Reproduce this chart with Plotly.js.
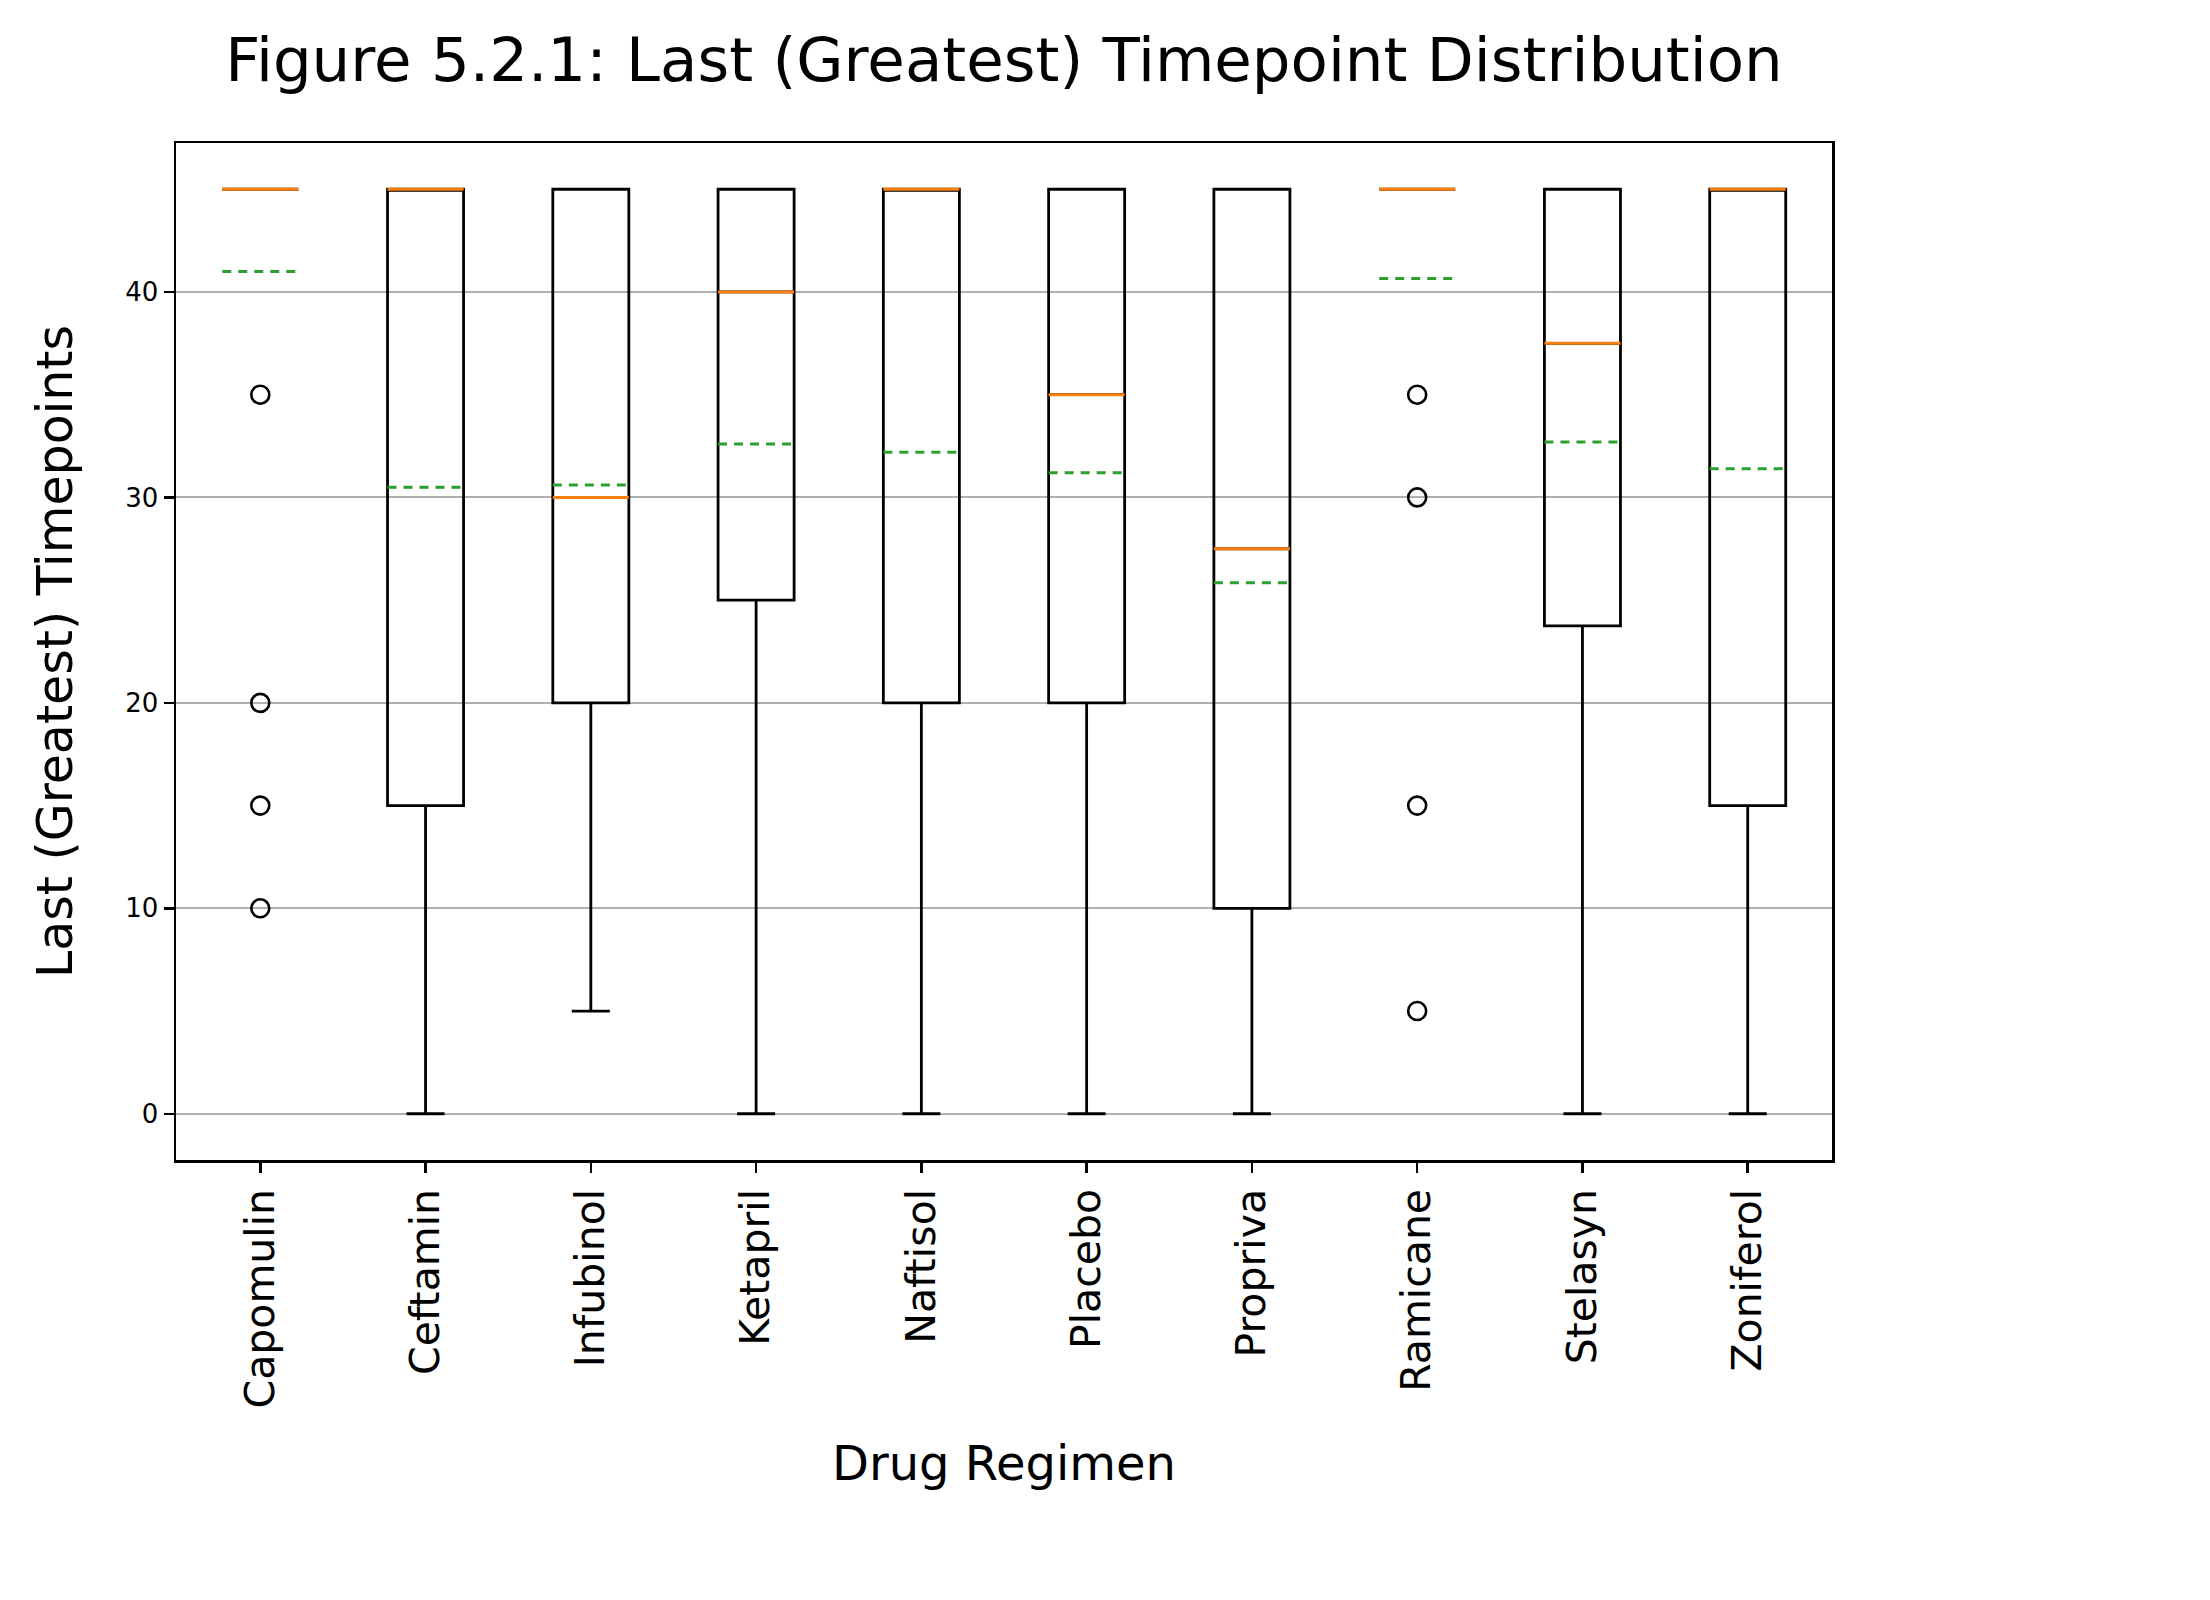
<!DOCTYPE html>
<html>
<head>
<meta charset="utf-8">
<script src="https://cdn.plot.ly/plotly-3.0.1.min.js"></script>
<style>
  html, body { margin: 0; padding: 0; background: #fff; }
  #plot { width: 2210px; height: 1600px; }
</style>
</head>
<body>
<div id="plot"></div>
<script>
// drug regimens, in plotted order
var regimens = ['Capomulin', 'Ceftamin', 'Infubinol', 'Ketapril', 'Naftisol',
                'Placebo', 'Propriva', 'Ramicane', 'Stelasyn', 'Zoniferol']

// box statistics (last timepoint per mouse)
var q1Values     = [45, 15, 20, 25, 20, 20, 10, 45, 23.75, 15]
var medianValues = [45, 45, 30, 40, 45, 35, 27.5, 45, 37.5, 45]
var q3Values     = [45, 45, 45, 45, 45, 45, 45, 45, 45, 45]
var lowerWhisker = [45, 0, 5, 0, 0, 0, 0, 45, 0, 0]
var upperWhisker = [45, 45, 45, 45, 45, 45, 45, 45, 45, 45]
var meanValues   = [41.0, 30.5, 30.6, 32.6, 32.2, 31.2, 25.85, 40.65, 32.7, 31.4]

// flier points
var outlierRegimen = ['Capomulin', 'Capomulin', 'Capomulin', 'Capomulin',
                      'Ramicane', 'Ramicane', 'Ramicane', 'Ramicane']
var outlierValues  = [35, 20, 15, 10, 35, 30, 15, 5]

var yTicks = [0, 10, 20, 30, 40]

var positions = regimens.map(function (r, i) { return i + 1 })
var boxWidth = 0.46
var half = boxWidth / 2

// little horizontal segments for medians / means across each box
function segments(values) {
  var xs = [], ys = []
  for (var i = 0; i < values.length; i++) {
    xs.push(positions[i] - half, positions[i] + half, null)
    ys.push(values[i], values[i], null)
  }
  return {x: xs, y: ys}
}

var font = 'DejaVu Sans, Verdana, sans-serif'

var boxes = {
  type: 'box',
  x: positions,
  q1: q1Values,
  median: medianValues,
  q3: q3Values,
  lowerfence: lowerWhisker,
  upperfence: upperWhisker,
  width: boxWidth,
  whiskerwidth: 0.5,
  boxpoints: false,
  fillcolor: 'rgba(0,0,0,0)',
  line: {color: '#000000', width: 2.8},
  hoverinfo: 'skip',
  showlegend: false
}

var med = segments(medianValues)
var medians = {
  type: 'scatter',
  mode: 'lines',
  x: med.x,
  y: med.y,
  line: {color: '#ff7f0e', width: 3},
  showlegend: false,
  hoverinfo: 'skip'
}

var mn = segments(meanValues)
var means = {
  type: 'scatter',
  mode: 'lines',
  x: mn.x,
  y: mn.y,
  line: {color: '#2ca02c', width: 3, dash: '9px,7px'},
  showlegend: false,
  hoverinfo: 'skip'
}

var fliers = {
  type: 'scatter',
  mode: 'markers',
  x: outlierRegimen.map(function (r) { return regimens.indexOf(r) + 1 }),
  y: outlierValues,
  marker: {symbol: 'circle-open', color: '#000000', size: 18, line: {width: 2.6, color: '#000000'}},
  showlegend: false
}

var layout = {
  width: 2210,
  height: 1600,
  paper_bgcolor: '#ffffff',
  plot_bgcolor: '#ffffff',
  margin: {l: 176, r: 378, t: 143, b: 440, pad: 0},
  font: {family: font, color: '#000000'},
  title: {
    text: 'Figure 5.2.1: Last (Greatest) Timepoint Distribution',
    font: {family: font, size: 61, color: '#000000'},
    x: 0.5, xref: 'paper',
    y: 1 - 60 / 1600, yref: 'container', yanchor: 'middle'
  },
  xaxis: {
    range: [0.49, 10.51],
    tickmode: 'array',
    tickvals: positions,
    ticktext: regimens,
    tickangle: -90,
    tickfont: {family: font, size: 41, color: '#000000'},
    ticks: 'outside', ticklen: 10, tickwidth: 2.5, tickcolor: '#000000',
    showgrid: false, zeroline: false,
    showline: true, mirror: true, linecolor: '#000000', linewidth: 2.5,
    automargin: false,
    title: {text: 'Drug Regimen', font: {family: font, size: 48, color: '#000000'}, standoff: 39}
  },
  yaxis: {
    range: [-2.25, 47.25],
    tickmode: 'array',
    tickvals: yTicks,
    tickfont: {family: font, size: 26, color: '#000000'},
    ticks: 'outside', ticklen: 10, tickwidth: 2.5, tickcolor: '#000000',
    showgrid: true, gridcolor: '#b0b0b0', gridwidth: 2,
    zeroline: false,
    showline: true, mirror: true, linecolor: '#000000', linewidth: 2.5,
    automargin: false,
    title: {text: 'Last (Greatest) Timepoints', font: {family: font, size: 49, color: '#000000'}, standoff: 37}
  }
}

Plotly.newPlot('plot', [boxes, medians, means, fliers], layout, {staticPlot: true})
</script>
</body>
</html>
